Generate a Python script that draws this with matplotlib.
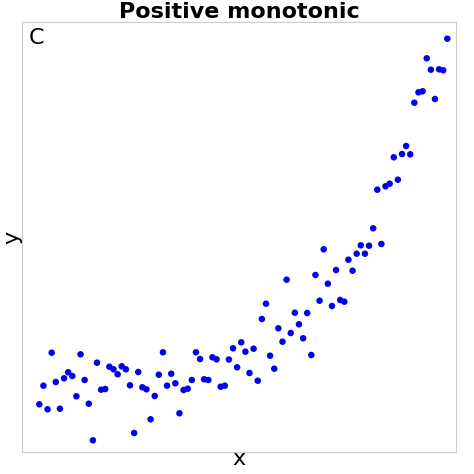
import numpy as np
import matplotlib.pyplot as plt

x = np.arange(1, 101)
y_px = [404.3, 385.7, 409.3, 352.7, 382, 408.7, 378.3, 372.3, 376, 396.3,
        354.3, 380, 403.7, 440.3, 362.7, 389.7, 389, 366.7, 369.3, 374.3,
        366.3, 369.3, 385.3, 433, 372, 387.3, 389.3, 419.3, 396, 374.7,
        352.3, 385.7, 373.7, 383.3, 413.3, 390, 388.7, 380, 352.3, 359,
        379.3, 380, 357.3, 359.3, 386.7, 385.7, 359.5, 348.3, 367.3, 342.3,
        351.7, 373, 348.7, 380.7, 319, 303.7, 355.7, 368.7, 328.3, 341.7,
        279.7, 333, 312.7, 324.3, 338.3, 313, 355, 275, 300.7, 249.3,
        283.7, 306, 270, 300, 301.7, 259.7, 270.7, 253.7, 245.3, 253.7,
        245.7, 228.3, 189.7, 244, 186.3, 183.7, 157.3, 179.7, 154, 146,
        154.3, 102.7, 92.3, 91.3, 58.3, 69.7, 99, 69.3, 70.3, 38.7]
y = [452 - v for v in y_px]

fig = plt.figure(figsize=(4.74, 4.74), dpi=100)
ax = fig.add_axes([22/474, 22/474, 434/474, 430/474])
ax.scatter(x, y, s=22, color="#0000ee", edgecolors="none")
ax.set_xlim(-3.2, 102.1)
ax.set_ylim(0, 430)
ax.set_xticks([])
ax.set_yticks([])
for s in ax.spines.values():
    s.set_color("#cccccc")
ax.set_title("Positive monotonic", fontsize=16, fontweight="bold", pad=2)
ax.set_xlabel("x", fontsize=16, labelpad=-2)
ax.set_ylabel("y", fontsize=16, labelpad=0)
ax.text(0.015, 0.985, "C", transform=ax.transAxes, fontsize=16, va="top", ha="left")
fig.savefig("out.png")
